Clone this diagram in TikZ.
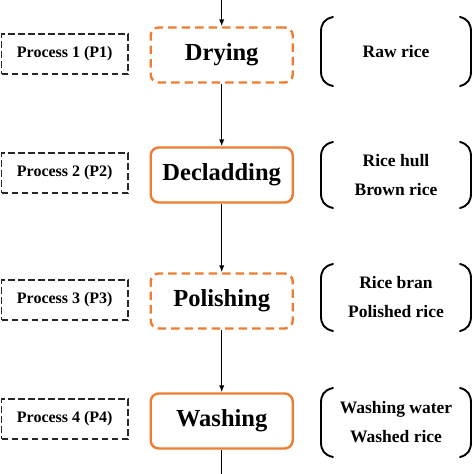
\documentclass[tikz,border=0pt]{standalone}
\usepackage{fontspec}
\setmainfont{Liberation Serif}
\usetikzlibrary{arrows.meta}
\definecolor{procorange}{RGB}{237,125,49}
\begin{document}
\begin{tikzpicture}[x=1pt,y=-1pt,
  stepsolid/.style={draw=procorange, line width=2.4pt, rounded corners=8pt,
    minimum width=142pt, minimum height=55pt, inner sep=0pt,
    font=\fontsize{24.5}{28}\selectfont\bfseries},
  stepdashed/.style={stepsolid, dash pattern=on 8.5pt off 5pt},
  procbox/.style={draw=black!85, line width=1.7pt, dash pattern=on 6.5pt off 3.5pt,
    minimum width=126.5pt, minimum height=40pt, inner sep=0pt,
    font=\fontsize{16}{18}\selectfont\bfseries},
  prodtext/.style={align=center, inner sep=0pt,
    font=\fontsize{17.5}{29}\selectfont\bfseries},
  flow/.style={line width=1.5pt, -{Latex[length=7pt,width=5.5pt]}},
  brk/.style={line width=1.9pt, line cap=round}
]
\useasboundingbox (0,0) rectangle (474,474);

% main steps
\node[stepdashed] (dry) at (221.7,55) {Drying};
\node[stepsolid] (dec) at (221.7,175) {Decladding};
\node[stepdashed] (pol) at (221.7,301) {Polishing};
\node[stepsolid] (wash) at (221.7,421) {Washing};

% process labels
\node[procbox] (p1) at (64.75,54) {Process 1 (P1)};
\node[procbox] (p2) at (64.75,173) {Process 2 (P2)};
\node[procbox] (p3) at (64.75,300) {Process 3 (P3)};
\node[procbox] (p4) at (64.75,419) {Process 4 (P4)};

% products
\node[prodtext] (o1) at (396,51.5) {Raw rice};
\node[prodtext] (o2) at (396,175) {Rice hull\\Brown rice};
\node[prodtext] (o3) at (396,297.5) {Rice bran\\Polished rice};
\node[prodtext] (o4) at (396,422.5) {Washing water\\Washed rice};

% connectors
\coordinate (top) at (221.7,0);
\coordinate (bot) at (221.7,474);
\draw[flow] (top) -- (dry.north);
\draw[flow] (dry.south) -- (dec.north);
\draw[flow] (dec.south) -- (pol.north);
\draw[flow] (pol.south) -- (wash.north);
\draw[line width=1.5pt] (wash.south) -- (bot);

% brackets
\newcommand{\prodbrackets}[2]{%
  \draw[brk] (333,#1) .. controls (324,#1+2) and (321,#1+7) .. (321,#1+15)
    -- (321,#2-15) .. controls (321,#2-7) and (324,#2-2) .. (333,#2);
  \draw[brk] (460,#1) .. controls (468,#1+2) and (471,#1+7) .. (471,#1+15)
    -- (471,#2-15) .. controls (471,#2-7) and (468,#2-2) .. (460,#2);
}
\prodbrackets{17}{86}
\prodbrackets{142}{208}
\prodbrackets{264}{331}
\prodbrackets{388}{457}
\end{tikzpicture}
\end{document}
